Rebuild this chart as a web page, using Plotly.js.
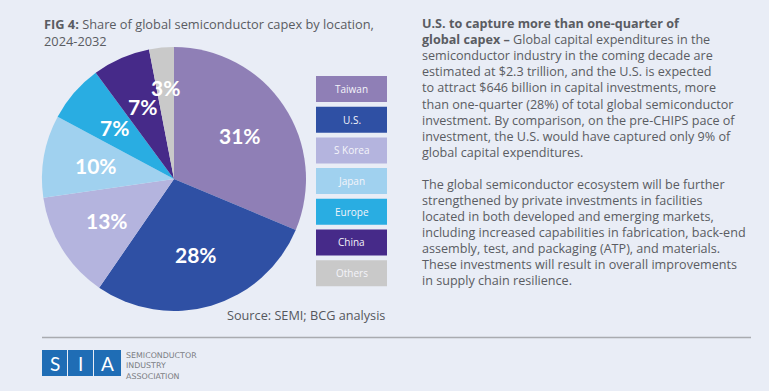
<!DOCTYPE html>
<html>
<head>
<meta charset="utf-8">
<script src="https://cdn.plot.ly/plotly-3.0.1.min.js"></script>
<style>
html,body{margin:0;padding:0;background:#e9edf6;}
#chart{width:769px;height:391px;}
</style>
</head>
<body>
<div id="chart"></div>
<script>
// ---- data ----
const locations = ["Taiwan", "U.S.", "S Korea", "Japan", "Europe", "China", "Others"];
const shares = [31, 28, 13, 10, 7, 7, 3];
const sliceColors = ["#8f7fb6", "#2f50a4", "#b4b4de", "#a0d1ef", "#29ade2", "#462a89", "#c9c9c9"];

// ---- canvas geometry (pixels) ----
const W = 769, H = 391;
const cx = 174, cy = 179, R = 132;
const px = x => x / W;
const py = y => 1 - y / H;

const pie = {
  type: "pie",
  values: shares,
  labels: locations,
  marker: {colors: sliceColors, line: {width: 0}},
  sort: false,
  direction: "clockwise",
  rotation: 0,
  textinfo: "none",
  hoverinfo: "label+value",
  showlegend: false,
  domain: {x: [px(cx - R), px(cx + R)], y: [py(cy + R), py(cy - R)]}
};

// percentage labels placed at slice mid-angles computed from the data
const total = shares.reduce((a, b) => a + b, 0);
const annotations = [];
let cum = 0;
shares.forEach((v, i) => {
  const mid = (cum + v / 2) / total * 2 * Math.PI;
  cum += v;
  const frac = v / total < 0.05 ? 0.7 : 0.6;
  const x = cx + Math.sin(mid) * R * frac;
  const y = cy - Math.cos(mid) * R * frac;
  annotations.push({
    xref: "paper", yref: "paper", x: px(x), y: py(y),
    text: v + "%", showarrow: false,
    font: {family: "Lato, 'Open Sans', sans-serif", size: 21, color: "#ffffff", weight: 700},
    xanchor: "center", yanchor: "middle"
  });
});

// legend boxes
const shapes = [];
const legTop = 76, legStep = 30.7, legH = 26, legX0 = 316, legX1 = 387;
locations.forEach((name, i) => {
  const y0 = legTop + i * legStep;
  shapes.push({type: "rect", xref: "paper", yref: "paper",
    x0: px(legX0), x1: px(legX1), y0: py(y0), y1: py(y0 + legH),
    fillcolor: sliceColors[i], line: {width: 0}});
  annotations.push({xref: "paper", yref: "paper", x: px((legX0 + legX1) / 2), y: py(y0 + legH / 2),
    text: name, showarrow: false, xanchor: "center", yanchor: "middle",
    font: {family: "Open Sans, sans-serif", size: 10, color: "#f4f4fa"}});
});

// divider line
shapes.push({type: "line", xref: "paper", yref: "paper", x0: px(42), x1: px(751), y0: py(337.5), y1: py(337.5),
  line: {color: "#a9abb0", width: 1.5}});

// SIA logo
shapes.push({type: "rect", xref: "paper", yref: "paper", x0: px(42), x1: px(121), y0: py(350), y1: py(376),
  fillcolor: "#1f6db5", line: {width: 0}});
[67.5, 93.5].forEach(x => shapes.push({type: "line", xref: "paper", yref: "paper", x0: px(x), x1: px(x),
  y0: py(350), y1: py(376), line: {color: "#e9edf6", width: 1}}));
[["S", 55], ["I", 80.5], ["A", 107]].forEach(([t, x]) => annotations.push({
  xref: "paper", yref: "paper", x: px(x), y: py(363.5), text: t, showarrow: false,
  xanchor: "center", yanchor: "middle",
  font: {family: "Lato, sans-serif", size: 19, color: "#ffffff"}}));
annotations.push({
  xref: "paper", yref: "paper", x: px(124), y: py(348.5), text: "SEMICONDUCTOR<br>INDUSTRY<br>ASSOCIATION",
  showarrow: false, xanchor: "left", yanchor: "top", align: "left",
  font: {family: "DejaVu Sans, sans-serif", size: 7.9, color: "#7a7c82"}});

// title
annotations.push({xref: "paper", yref: "paper", x: px(42), y: py(12.5), xanchor: "left", yanchor: "top",
  showarrow: false, align: "left",
  text: "<b>FIG 4:</b> Share of global semiconductor capex by location,<br>2024-2032",
  font: {family: "Open Sans, sans-serif", size: 12.8, color: "#5a5c62"}});

// source
annotations.push({xref: "paper", yref: "paper", x: px(387), y: py(315), xanchor: "right", yanchor: "middle",
  showarrow: false, text: "Source: SEMI; BCG analysis",
  font: {family: "Open Sans, sans-serif", size: 12.7, color: "#55575d"}});

// right-hand text
const para1 = [
  "<b>U.S. to capture more than one-quarter of</b>",
  "<b>global capex \u2013</b> Global capital expenditures in the",
  "semiconductor industry in the coming decade are",
  "estimated at $2.3 trillion, and the U.S. is expected",
  "to attract $646 billion in capital investments, more",
  "than one-quarter (28%) of total global semiconductor",
  "investment. By comparison, on the pre-CHIPS pace of",
  "investment, the U.S. would have captured only 9% of",
  "global capital expenditures."
];
const para2 = [
  "The global semiconductor ecosystem will be further",
  "strengthened by private investments in facilities",
  "located in both developed and emerging markets,",
  "including increased capabilities in fabrication, back-end",
  "assembly, test, and packaging (ATP), and materials.",
  "These investments will result in overall improvements",
  "in supply chain resilience."
];
para1.forEach((t, i) => annotations.push({xref: "paper", yref: "paper", x: px(420), y: py(23.5 + i * 16.1),
  xanchor: "left", yanchor: "middle", showarrow: false, text: t,
  font: {family: "Open Sans, sans-serif", size: 12.6, color: "#5a5c62"}}));
para2.forEach((t, i) => annotations.push({xref: "paper", yref: "paper", x: px(420), y: py(184 + i * 16.15),
  xanchor: "left", yanchor: "middle", showarrow: false, text: t,
  font: {family: "Open Sans, sans-serif", size: 12.6, color: "#5a5c62"}}));

const layout = {
  width: W, height: H,
  margin: {l: 0, r: 0, t: 0, b: 0},
  paper_bgcolor: "#e9edf6",
  plot_bgcolor: "#e9edf6",
  showlegend: false,
  shapes: shapes,
  annotations: annotations
};

Plotly.newPlot("chart", [pie], layout, {displayModeBar: false, staticPlot: true});
</script>
</body>
</html>
